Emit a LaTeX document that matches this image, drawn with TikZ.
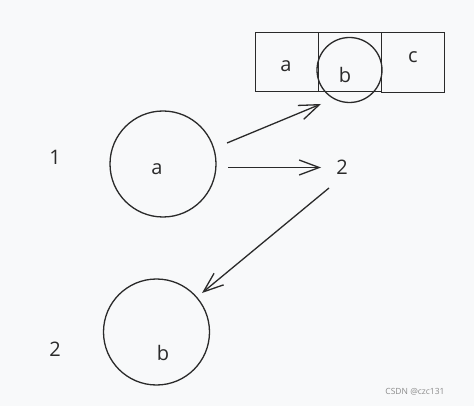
\documentclass[tikz,border=0pt]{standalone}
\usepackage{fontspec}
\setmainfont{Open Sans}
\usetikzlibrary{arrows.meta}
\definecolor{bg}{HTML}{F8F9FA}
\definecolor{ink}{HTML}{2A2A2A}
\begin{document}
\begin{tikzpicture}[x=1pt,y=-1pt,
  ln/.style={draw=ink,line width=1.3pt},
  arr/.style={ln,-{Straight Barb[length=20pt,width=15pt,line width=1.3pt]}},
  lbl/.style={text=ink,font=\fontsize{20}{20}\selectfont,inner sep=0pt},
  cell/.style={ln,minimum width=63pt,minimum height=59pt,inner sep=0pt,anchor=north west}]
\fill[bg] (0,0) rectangle (474,406);
\useasboundingbox (0,0) rectangle (474,406);
% boxes
\node[cell] (ba) at (255,32) {};
\node[cell] (bb) at (318,32) {};
\node[cell,minimum height=60pt] (bc) at (381,32) {};
\node[ln,circle,minimum size=65pt,inner sep=0pt] (cb) at (349.5,70) {};
\node[lbl] (ta) at (286,66) {a};
\node[lbl] (tb) at (345,75) {b};
\node[lbl] (tc) at (413,57) {c};
% big circles
\node[ln,circle,minimum size=106pt,inner sep=0pt] (ca) at (163,164) {};
\node[lbl] at (157,169) {a};
\node[ln,circle,minimum size=106pt,inner sep=0pt] (cbb) at (156.5,332) {};
\node[lbl] at (163,353) {b};
% row labels
\node[lbl] (l1) at (55,157) {1};
\node[lbl] (l2) at (55,349) {2};
\node[lbl] (two) at (342,167) {2};
% arrow endpoints
\coordinate (s1) at (227,143);
\coordinate (e1) at (321,104);
\coordinate (s2) at (228,167.5);
\coordinate (e2) at (321,167.5);
\coordinate (s3) at (329,188);
\coordinate (e3) at (202,293);
\draw[arr] (s1) -- (e1);
\draw[arr] (s2) -- (e2);
\draw[arr] (s3) -- (e3);
% watermark
\node[text=black!45,font=\fontsize{8.5}{8.5}\selectfont,inner sep=0pt] (wm) at (415,392) {CSDN @czc131};
\end{tikzpicture}
\end{document}
